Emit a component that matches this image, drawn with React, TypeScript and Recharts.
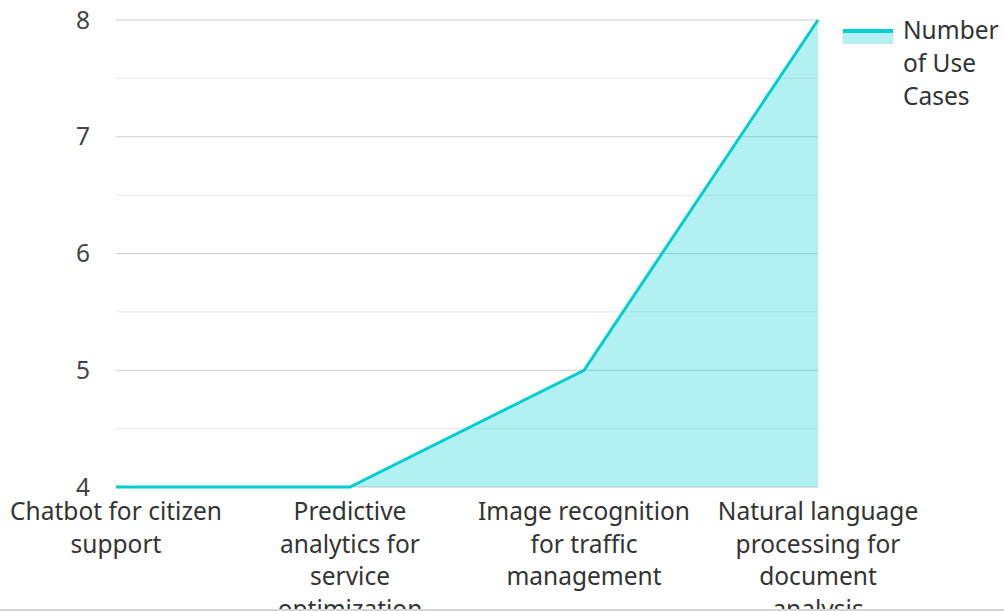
import React from 'react';
import { AreaChart, Area, XAxis, YAxis, CartesianGrid, Legend } from 'recharts';

// AI use cases in public services
const useCases = [
  'Chatbot for citizen support',
  'Predictive analytics for service optimization',
  'Image recognition for traffic management',
  'Natural language processing for document analysis',
];
const caseCounts = [4, 4, 5, 8];
const yTicks = [4, 4.5, 5, 5.5, 6, 6.5, 7, 7.5, 8];

const data = useCases.map((name, i) => ({ name, count: caseCounts[i] }));

const FONT = '"Noto Sans", sans-serif';
const TEAL = '#00CED1';
const TICK_FONT = 24.5;
const WRAP_WIDTH = 213;

let ctx: CanvasRenderingContext2D | null = null;
function measure(s: string) {
  if (!ctx) ctx = document.createElement('canvas').getContext('2d');
  if (!ctx) return s.length * TICK_FONT * 0.55;
  ctx.font = `${TICK_FONT}px "Noto Sans"`;
  return ctx.measureText(s).width;
}

// greedy word wrap for the category labels
function wrap(label: string) {
  const lines: string[] = [];
  let cur = '';
  label.split(' ').forEach((w) => {
    const next = cur ? `${cur} ${w}` : w;
    if (cur && measure(next) > WRAP_WIDTH) {
      lines.push(cur);
      cur = w;
    } else {
      cur = next;
    }
  });
  if (cur) lines.push(cur);
  return lines;
}

function CategoryTick(props: any) {
  const { x, y, payload } = props;
  const lines = wrap(String(payload.value));
  return (
    <text x={x} y={y} textAnchor="middle" fontSize={TICK_FONT} fontFamily={FONT} fill="#333">
      {lines.map((line, i) => (
        <tspan key={i} x={x} dy={i === 0 ? 33 : 32.5}>
          {line}
        </tspan>
      ))}
    </text>
  );
}

function gridLine(props: any) {
  const { x1, y1, x2, y2, index } = props;
  const major = index % 2 === 0;
  return (
    <line
      key={`g-${index}`}
      x1={x1}
      y1={y1}
      x2={x2}
      y2={y2}
      stroke={major ? '#cccccc' : '#e6e6e6'}
      strokeWidth={1}
    />
  );
}

function LegendBox() {
  return (
    <div style={{ display: 'flex', alignItems: 'flex-start', fontFamily: FONT, fontSize: TICK_FONT, color: '#333' }}>
      <svg width={50} height={15} style={{ marginTop: 14, marginRight: 10, flexShrink: 0 }}>
        <rect x={0} y={4} width={50} height={11} fill={TEAL} fillOpacity={0.3} />
        <rect x={0} y={0} width={50} height={4} fill={TEAL} />
      </svg>
      <div style={{ width: 100, lineHeight: '33px', marginTop: -2 }}>Number of Use Cases</div>
    </div>
  );
}

export default function App() {
  return (
    <div
      style={{
        position: 'fixed',
        left: 0,
        top: 0,
        width: 1004,
        height: 609,
        overflow: 'hidden',
        borderBottom: '2px solid #d4d4d4',
        background: '#fff',
      }}
    >
      <AreaChart width={1004} height={660} data={data} margin={{ top: 20, right: 186, bottom: 0, left: 0 }}>
        <CartesianGrid vertical={false} horizontal={gridLine} />
        <XAxis
          dataKey="name"
          interval={0}
          axisLine={false}
          tickLine={false}
          tickSize={0}
          tickMargin={0}
          height={173}
          tick={<CategoryTick />}
        />
        <YAxis
          domain={[4, 8]}
          ticks={yTicks}
          width={116}
          axisLine={false}
          tickLine={false}
          tickMargin={20}
          tickFormatter={(v: number) => (Number.isInteger(v) ? String(v) : '')}
          tick={{ fontSize: TICK_FONT, fontFamily: FONT, fill: '#444' }}
        />
        <Legend
          layout="horizontal"
          verticalAlign="middle"
          align="center"
          content={<LegendBox />}
          wrapperStyle={{ left: 843, top: 15, width: 160 }}
        />
        <Area
          type="linear"
          dataKey="count"
          name="Number of Use Cases"
          stroke={TEAL}
          strokeWidth={3}
          fill={TEAL}
          fillOpacity={0.3}
          dot={false}
          activeDot={false}
          isAnimationActive={false}
        />
      </AreaChart>
    </div>
  );
}
